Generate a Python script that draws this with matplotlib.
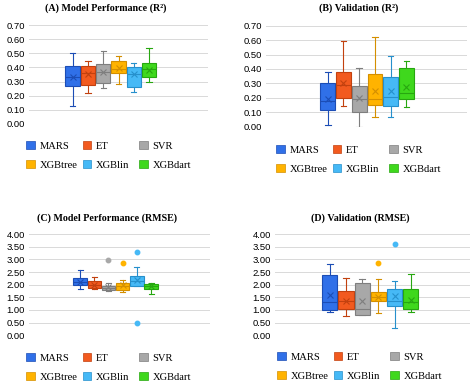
import matplotlib
matplotlib.use("Agg")
import matplotlib.pyplot as plt
from matplotlib.patches import Patch

models = ["MARS", "ET", "SVR", "XGBtree", "XGBlin", "XGBdart"]
fills = ["#3070E8", "#F25A1F", "#A8A8A8", "#FFB300", "#46B9F6", "#3FD81D"]
edges = ["#1C4DB5", "#C2410F", "#7E7E7E", "#D48F00", "#2690CC", "#27A710"]

# (A) model performance R2
a_q1 = [0.270, 0.277, 0.288, 0.358, 0.264, 0.330]
a_q3 = [0.410, 0.410, 0.424, 0.445, 0.405, 0.430]
a_med = [0.335, 0.360, 0.370, 0.390, 0.350, 0.390]
a_mean = [0.335, 0.355, 0.370, 0.395, 0.355, 0.385]
a_lo = [0.130, 0.218, 0.253, 0.283, 0.224, 0.295]
a_hi = [0.505, 0.445, 0.517, 0.480, 0.430, 0.540]
a_out = [[], [], [], [], [], []]

# (B) validation R2
b_q1 = [0.117, 0.198, 0.104, 0.152, 0.145, 0.193]
b_q3 = [0.305, 0.382, 0.286, 0.366, 0.348, 0.410]
b_med = [0.180, 0.290, 0.195, 0.193, 0.210, 0.237]
b_mean = [0.190, 0.300, 0.197, 0.250, 0.250, 0.274]
b_lo = [0.014, 0.145, 0.000, 0.070, 0.070, 0.140]
b_hi = [0.380, 0.595, 0.410, 0.624, 0.490, 0.458]
b_out = [[], [], [], [], [], []]

# (C) model performance RMSE
c_q1 = [2.00, 1.86, 1.80, 1.78, 1.96, 1.83]
c_q3 = [2.26, 2.13, 1.96, 2.07, 2.33, 2.04]
c_med = [2.10, 2.00, 1.88, 1.93, 2.13, 1.93]
c_mean = [2.12, 2.00, 1.89, 1.97, 2.20, 1.94]
c_lo = [1.83, 1.83, 1.75, 1.71, 1.93, 1.64]
c_hi = [2.57, 2.30, 2.05, 2.20, 2.68, 2.07]
c_out = [[], [], [2.96], [2.86], [3.28, 0.50], []]

# (D) validation RMSE
d_q1 = [0.99, 1.05, 0.79, 1.34, 1.14, 1.05]
d_q3 = [2.37, 1.76, 2.07, 1.71, 1.83, 1.84]
d_med = [1.33, 1.35, 1.05, 1.50, 1.34, 1.30]
d_mean = [1.60, 1.37, 1.34, 1.51, 1.55, 1.38]
d_lo = [0.91, 0.75, 0.79, 0.88, 0.28, 0.90]
d_hi = [2.82, 2.26, 2.24, 2.21, 2.13, 2.42]
d_out = [[], [], [], [2.84], [3.62], []]

panels = [
    dict(title="(A) Model Performance (R²)", data=(a_q1, a_q3, a_med, a_mean, a_lo, a_hi, a_out),
         rect=[0.061, 0.680, 0.378, 0.255], xlim=(-2.85, 8.85), ylim=0.70, step=0.10,
         title_xy=(106, 8), leg_y=149, leg_x=27),
    dict(title="(B) Validation (R²)", data=(b_q1, b_q3, b_med, b_mean, b_lo, b_hi, b_out),
         rect=[0.561, 0.672, 0.424, 0.262], xlim=(-3.94, 8.86), ylim=0.70, step=0.10,
         title_xy=(359, 8), leg_y=153, leg_x=277),
    dict(title="(C) Model Performance (RMSE)", data=(c_q1, c_q3, c_med, c_mean, c_lo, c_hi, c_out),
         rect=[0.061, 0.134, 0.382, 0.261], xlim=(-3.6, 9.15), ylim=4.0, step=0.5,
         title_xy=(107, 218), leg_y=361, leg_x=27),
    dict(title="(D) Validation (RMSE)", data=(d_q1, d_q3, d_med, d_mean, d_lo, d_hi, d_out),
         rect=[0.580, 0.134, 0.411, 0.261], xlim=(-3.4, 8.65), ylim=4.0, step=0.5,
         title_xy=(360, 218), leg_y=360, leg_x=278),
]

W, H = 474, 387
fig = plt.figure(figsize=(W / 100, H / 100), dpi=100)
serif = "Liberation Serif"

for p in panels:
    ax = fig.add_axes(p["rect"])
    q1, q3, med, mean, lo, hi, out = p["data"]
    stats = []
    for i in range(len(models)):
        stats.append(dict(q1=q1[i], q3=q3[i], med=med[i], mean=mean[i],
                          whislo=lo[i], whishi=hi[i], fliers=out[i]))
    res = ax.bxp(stats, positions=range(len(models)), widths=0.94, patch_artist=True,
                 showmeans=True, capwidths=0.35)
    for i in range(len(models)):
        res["boxes"][i].set(facecolor=fills[i], edgecolor=edges[i], linewidth=0.8, zorder=3)
        for ln in res["whiskers"][2 * i:2 * i + 2] + res["caps"][2 * i:2 * i + 2]:
            ln.set(color=edges[i], linewidth=0.8, zorder=2)
        res["medians"][i].set(color=edges[i], linewidth=0.8, zorder=4)
        res["means"][i].set(marker="x", markeredgecolor=edges[i], markerfacecolor="none",
                            markersize=5, markeredgewidth=0.8, zorder=4)
        res["fliers"][i].set(marker="o", markerfacecolor=fills[i], markeredgecolor=fills[i],
                             markersize=3.2, zorder=4)

    n = int(round(p["ylim"] / p["step"]))
    ticks = [k * p["step"] for k in range(n + 1)]
    ax.set_ylim(0, p["ylim"])
    ax.set_yticks(ticks)
    ax.set_yticklabels([f"{t:.2f}" for t in ticks], fontsize=6.8, family="Liberation Sans")
    ax.set_xlim(*p["xlim"])
    ax.set_xticks([])
    ax.tick_params(axis="y", length=0, pad=3)
    ax.grid(axis="y", color="#D9D9D9", linewidth=0.7, zorder=0)
    ax.set_axisbelow(True)
    for s in ax.spines.values():
        s.set_visible(False)

    tx, ty = p["title_xy"]
    fig.text(tx / W, 1 - ty / H, p["title"], ha="center", va="center",
             fontsize=7.2, fontweight="bold", family=serif)

    # legend: three columns of two entries, placed at the reference column positions
    handles = [Patch(facecolor=fills[i], edgecolor=edges[i], linewidth=0.5) for i in range(6)]
    for col in range(3):
        idx = [col, col + 3]
        x0 = p["leg_x"] + col * 56.5
        fig.legend([handles[i] for i in idx], [models[i] for i in idx],
                   loc="upper left", bbox_to_anchor=((x0 - 1) / W, 1 - (p["leg_y"] - 8) / H),
                   frameon=False, prop=dict(family=serif, size=7.6), handlelength=0.85,
                   handleheight=0.85, handletextpad=0.45, labelspacing=0.85,
                   borderpad=0, borderaxespad=0)

fig.savefig("out.png", dpi=100)
